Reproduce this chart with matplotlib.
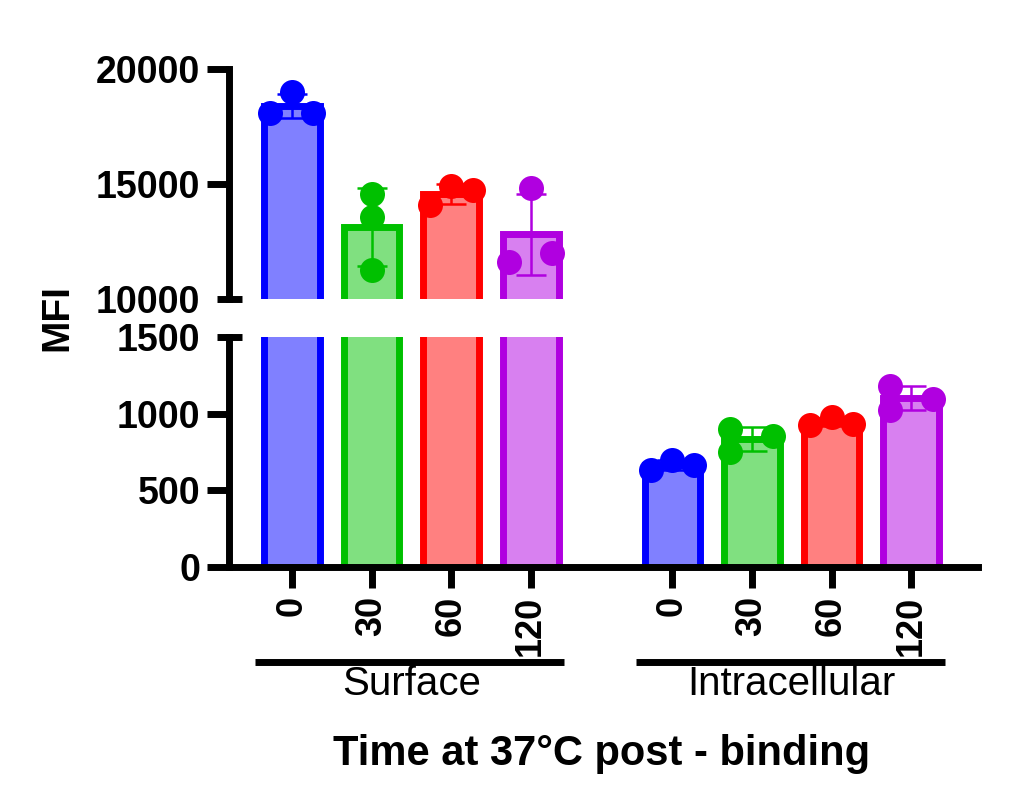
import numpy as np
import matplotlib
matplotlib.use('Agg')
import matplotlib.pyplot as plt
from matplotlib.transforms import blended_transform_factory

plt.rcParams['font.family'] = ['Liberation Sans', 'DejaVu Sans']
plt.rcParams['font.weight'] = 'bold'

# ---------------- data ----------------
groups = ['Surface', 'Intracellular']
times = ['0', '30', '60', '120']
surface_pts = [[18100, 19000, 18100],
               [14550, 13580, 11250],
               [14090, 14910, 14740],
               [11610, 14830, 12000]]
intracellular_pts = [[633, 698, 665],
                     [900, 750, 854],
                     [926, 978, 933],
                     [1180, 1024, 1096]]
# horizontal placement of replicate dots (-1 left, 0 centre, 1 right)
surface_jitter = [[-1, 0, 1], [0, 0, 0], [-1, 0, 1], [-1, 0, 1]]
intracellular_jitter = [[-1, 0, 1], [-1, -1, 1], [-1, 0, 1], [-1, -1, 1]]

edge_colors = ['#0000FF', '#00C000', '#FF0000', '#B000E0']
fill_colors = ['#8080FF', '#80E080', '#FF8080', '#D880F0']

# ---------------- layout ----------------
group_gap = 1.78
bar_w = 0.70
jit = 0.27

all_pts = surface_pts + intracellular_pts
all_jit = surface_jitter + intracellular_jitter
xpos = list(np.arange(4)) + list(np.arange(4) + 3 + group_gap)
means = [np.mean(p) for p in all_pts]
sds = [np.std(p, ddof=1) for p in all_pts]
edges = edge_colors * 2
fills = fill_colors * 2

fig = plt.figure(figsize=(10.24, 8.11), dpi=100)
L, W = 0.2241, 0.7310
ax_top = fig.add_axes([L, 0.6313, W, 0.9149 - 0.6313])
ax_bot = fig.add_axes([L, 0.3009, W, 0.5845 - 0.3009])

for ax in (ax_top, ax_bot):
    ax.bar(xpos, means, width=bar_w, color=fills, edgecolor=edges,
           linewidth=5, zorder=1)
    for x, m, s, c, pts, jj in zip(xpos, means, sds, edges, all_pts, all_jit):
        ax.errorbar(x, m, yerr=s, color=c, elinewidth=1.8, capsize=11,
                    capthick=1.8, zorder=2)
        ax.plot([x + j * jit for j in jj], pts, 'o', ms=18, color=c,
                mec='none', zorder=3)
    ax.set_xlim(-0.785, 7.78 + 0.84)
    for sp in ('top', 'right'):
        ax.spines[sp].set_visible(False)
    for sp in ax.spines.values():
        sp.set_linewidth(5)

# top segment
ax_top.set_ylim(10000, 20000)
ax_top.spines['bottom'].set_visible(False)
ax_top.tick_params(axis='x', bottom=False, labelbottom=False)
ax_top.set_yticks([15000, 20000], labels=['15000', '20000'])
ax_top.set_yticks([10000], labels=['10000'], minor=True)

# bottom segment
ax_bot.set_ylim(0, 1500)
ax_bot.set_yticks([0, 500, 1000], labels=['0', '500', '1000'])
ax_bot.set_yticks([1500], labels=['1500'], minor=True)
ax_bot.set_xticks(xpos, labels=times * 2, rotation=90)
ax_bot.tick_params(axis='x', direction='out', length=15, width=5, pad=6,
                   labelsize=26)

for ax in (ax_top, ax_bot):
    ax.tick_params(axis='y', which='major', direction='out', length=16,
                   width=5, pad=5, labelsize=27)
    ax.tick_params(axis='y', which='minor', direction='inout', length=18,
                   width=5, pad=12, labelsize=27)

# group lines and labels
tr = blended_transform_factory(ax_bot.transData, ax_bot.transAxes)
for g, name in enumerate(groups):
    xs = xpos[g * 4:(g + 1) * 4]
    ax_bot.plot([xs[0] - 0.46, xs[-1] + 0.42], [-0.413, -0.413], color='black',
                lw=5, transform=tr, clip_on=False, solid_capstyle='butt')
    ax_bot.text((xs[0] + xs[-1]) / 2, -0.5565, name, transform=tr,
                ha='center', va='baseline', fontsize=29, fontweight='normal')

fig.text(0.587, 0.0567, 'Time at 37°C post - binding', ha='center',
         va='baseline', fontsize=30, fontweight='bold')
fig.text(0.0557, 0.609, 'MFI', rotation=90, ha='center', va='center',
         fontsize=28, fontweight='bold')

fig.savefig('out.png', dpi=100)
